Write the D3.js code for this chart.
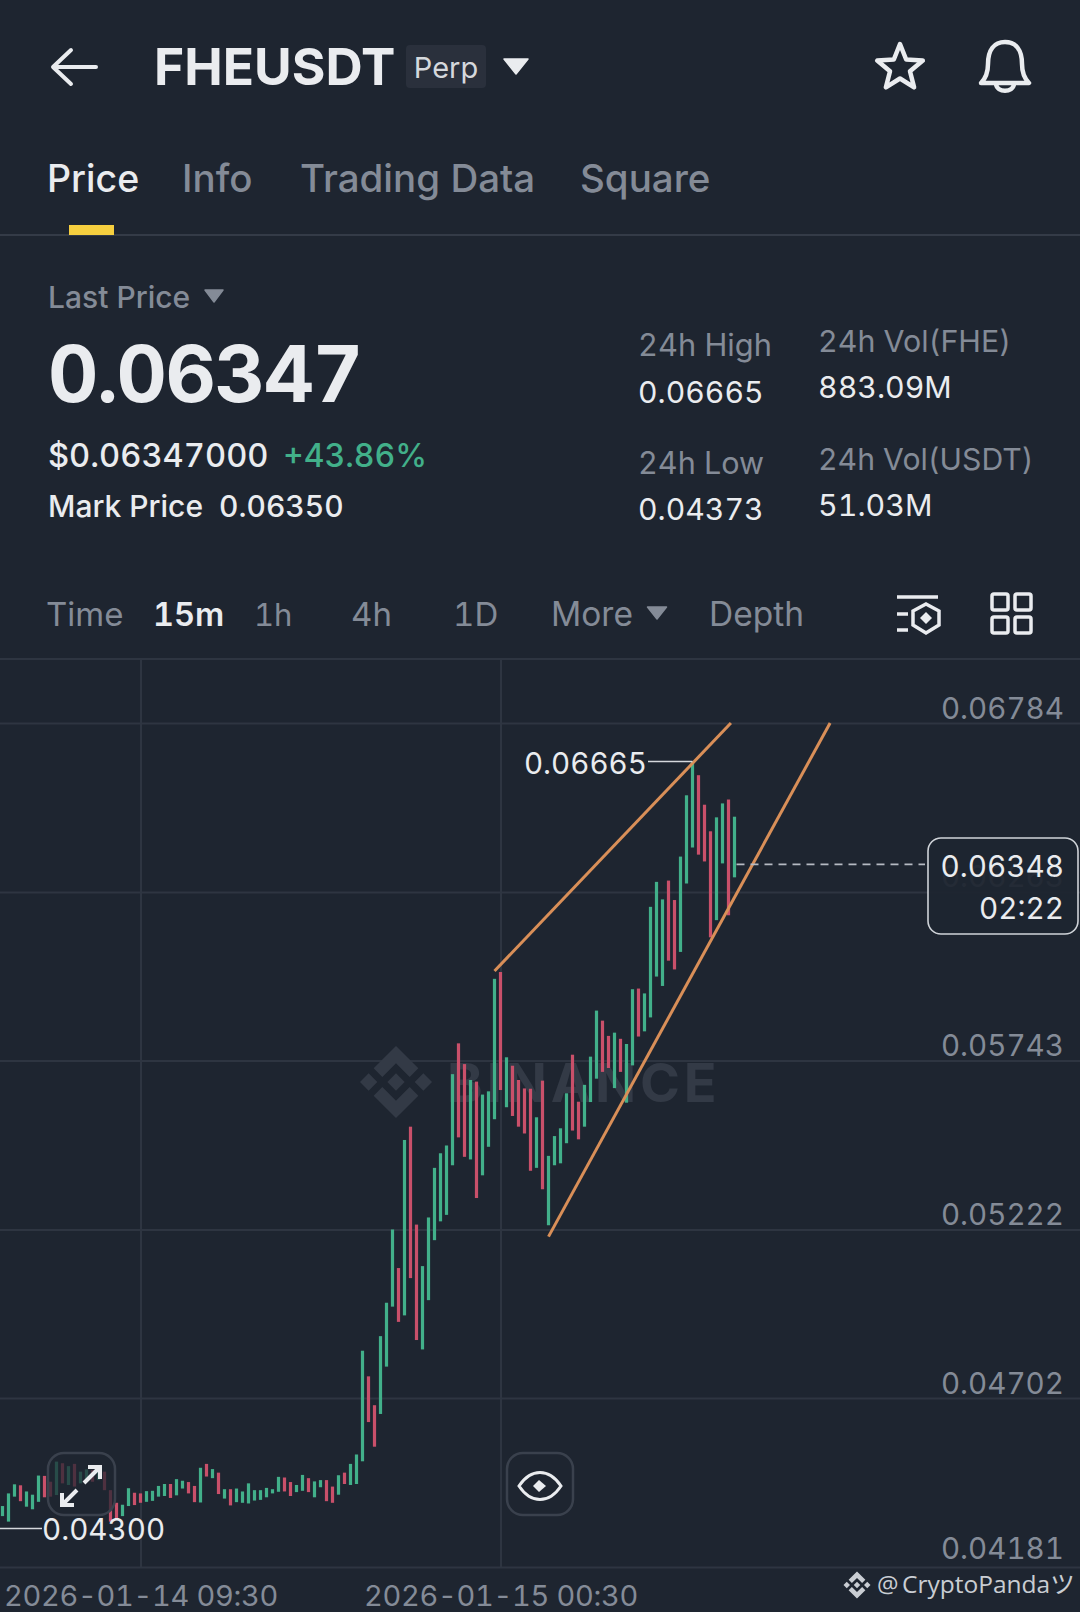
<!DOCTYPE html>
<html>
<head>
<meta charset="utf-8">
<script src="https://cdn.jsdelivr.net/npm/d3@7/dist/d3.min.js"></script>
<style>
  html, body { margin: 0; padding: 0; background: #1e2530; }
  svg { display: block; }
  text { font-family: Inter, "Noto Sans", sans-serif; font-variant-numeric: tabular-nums; }
</style>
</head>
<body>
<div id="chart"></div>
<script>
// 15m bars, first one at 2026-01-14 03:45
var firstBar = new Date(2026, 0, 14, 3, 45);
var sides = ("gggrgggrrg" + "rgrggrgrrr" + "ggrrggggrg" + "grrgrgrgrg" + "gggggggrrg" + "grggrrgrgg" +
  "grrgggrgrr" + "ggggggrrgr" + "gggrgrrrrg" + "rggggrrggg" + "rrgrggrggg" + "grrgggrrrg" + "grg").split("");
var highs = [0.04369,0.04408,0.04436,0.04433,0.04414,0.04404,0.04463,0.04462,0.04444,0.04506,
  0.04501,0.04492,0.04499,0.04475,0.04482,0.04480,0.04485,0.04475,0.04418,0.04379,
  0.04373,0.04424,0.04410,0.04408,0.04415,0.04416,0.04431,0.04437,0.04437,0.04452,
  0.04447,0.04443,0.04431,0.04487,0.04499,0.04483,0.04472,0.04421,0.04421,0.04423,
  0.04414,0.04439,0.04418,0.04418,0.04425,0.04421,0.04459,0.04457,0.04443,0.04434,
  0.04465,0.04455,0.04445,0.04449,0.04449,0.04429,0.04464,0.04472,0.04499,0.04528,
  0.04848,0.04769,0.04680,0.04893,0.04996,0.05222,0.05103,0.05498,0.05539,0.05237,
  0.05109,0.05259,0.05412,0.05457,0.05481,0.05701,0.05796,0.05732,0.05683,0.05678,
  0.05638,0.05648,0.05995,0.06016,0.05753,0.05727,0.05683,0.05657,0.05656,0.05568,
  0.05681,0.05449,0.05510,0.05534,0.05642,0.05761,0.05616,0.05668,0.05755,0.05897,
  0.05866,0.05819,0.05829,0.05810,0.05794,0.05963,0.05965,0.05950,0.06217,0.06294,
  0.06240,0.06298,0.06238,0.06372,0.06561,0.06665,0.06623,0.06532,0.06450,0.06493,
  0.06536,0.06548,0.06495];
var lows = [0.04338,0.04321,0.04398,0.04384,0.04367,0.04359,0.04382,0.04396,0.04398,0.04403,
  0.04439,0.04434,0.04429,0.04439,0.04444,0.04444,0.04449,0.04418,0.04321,0.04326,
  0.04338,0.04369,0.04372,0.04379,0.04382,0.04385,0.04398,0.04400,0.04394,0.04402,
  0.04423,0.04408,0.04381,0.04380,0.04460,0.04455,0.04406,0.04392,0.04371,0.04381,
  0.04379,0.04377,0.04386,0.04388,0.04396,0.04408,0.04413,0.04414,0.04400,0.04412,
  0.04416,0.04412,0.04396,0.04427,0.04384,0.04379,0.04404,0.04437,0.04434,0.04437,
  0.04507,0.04628,0.04552,0.04653,0.04799,0.04984,0.04937,0.04957,0.05072,0.04881,
  0.04852,0.05004,0.05189,0.05247,0.05267,0.05420,0.05506,0.05446,0.05438,0.05319,
  0.05389,0.05477,0.05562,0.05652,0.05599,0.05572,0.05539,0.05518,0.05403,0.05412,
  0.05346,0.05235,0.05420,0.05426,0.05488,0.05527,0.05500,0.05539,0.05615,0.05687,
  0.05708,0.05720,0.05658,0.05708,0.05613,0.05728,0.05817,0.05833,0.05876,0.06002,
  0.05973,0.06051,0.06024,0.06078,0.06289,0.06400,0.06378,0.06357,0.06123,0.06176,
  0.06351,0.06191,0.06308];

var priceTicks = [0.04181, 0.04702, 0.05222, 0.05743, 0.06263, 0.06784];
var timeTicks = [new Date(2026, 0, 14, 9, 30), new Date(2026, 0, 15, 0, 30)];

var lastPrice = 0.06348;
var highPrice = 0.06665;
var highTime = new Date(2026, 0, 15, 8, 30);
var lowPrice = 0.04300;

// hand drawn trend lines
var upperLineTimes = [new Date(2026, 0, 15, 0, 15), new Date(2026, 0, 15, 10, 6)];
var upperLinePrices = [0.06019, 0.06784];
var lowerLineTimes = [new Date(2026, 0, 15, 2, 30), new Date(2026, 0, 15, 14, 14)];
var lowerLinePrices = [0.05200, 0.06784];

var W = 1080, H = 1612;
var bg = "#1e2530", gridCol = "#2e3541", grey = "#848b97", white = "#eaecef";
var green = "#42b08a", red = "#c9506a", orange = "#d98f58";

var svg = d3.select("#chart").append("svg").attr("width", W).attr("height", H);
svg.append("rect").attr("width", W).attr("height", H).attr("fill", bg);

var x = d3.scaleTime().domain(timeTicks).range([140.5, 500.5]);
var y = d3.scaleLinear().domain([0.04181, 0.06784]).range([1567, 723]);

function label(s, px, py, size, col, weight, anchor, spacing) {
  return svg.append("text").text(s).attr("x", px).attr("y", py)
    .attr("font-size", size).attr("fill", col)
    .attr("font-weight", weight || 400).attr("text-anchor", anchor || "start")
    .attr("letter-spacing", spacing || 0);
}

function tri(cx, top, w, h, col) {
  svg.append("path")
    .attr("d", "M" + (cx - w / 2) + "," + top + "L" + (cx + w / 2) + "," + top + "L" + cx + "," + (top + h) + "Z")
    .attr("fill", col).attr("stroke", col).attr("stroke-width", 1.5).attr("stroke-linejoin", "round");
}

function binanceLogo(cx, cy, scale, col) {
  var g = svg.append("g").attr("transform", "translate(" + cx + "," + cy + ") scale(" + scale + ")").attr("fill", col);
  g.append("path").attr("d", "M0,-50L31,-19L19,-7L0,-26L-19,-7L-31,-19Z");
  g.append("path").attr("d", "M0,50L31,19L19,7L0,26L-19,7L-31,19Z");
  g.append("path").attr("d", "M0,-12L12,0L0,12L-12,0Z");
  g.append("path").attr("d", "M-38,-12L-26,0L-38,12L-50,0Z");
  g.append("path").attr("d", "M38,-12L50,0L38,12L26,0Z");
}

// header
svg.append("path").attr("d", "M96,67H54M71,50L53,67L71,84")
  .attr("fill", "none").attr("stroke", white).attr("stroke-width", 4).attr("stroke-linecap", "round").attr("stroke-linejoin", "round");
label("FHEUSDT", 154, 85, 51.5, white, 700);
svg.append("rect").attr("x", 406).attr("y", 45).attr("width", 80).attr("height", 43).attr("rx", 4).attr("fill", "#2a303c");
label("Perp", 446, 78, 29, "#d5d8dc", 400, "middle");
tri(516, 59, 24, 15, white);

var starPts = d3.range(10).map(function(i) {
  var r = i % 2 ? 10.5 : 24, a = i * Math.PI / 5;
  return [900 + r * Math.sin(a), 68 - r * Math.cos(a)].join(",");
}).join(" ");
svg.append("polygon").attr("points", starPts).attr("fill", "none").attr("stroke", white)
  .attr("stroke-width", 4.5).attr("stroke-linejoin", "round");
svg.append("path").attr("d", "M981,83C986,78 988,72 988,64C988,50 994,42 1005,42C1016,42 1022,50 1022,64C1022,72 1024,78 1029,83Z M996,84C997,93 1013,93 1014,84")
  .attr("fill", "none").attr("stroke", white).attr("stroke-width", 4.5).attr("stroke-linejoin", "round");

// tabs
label("Price", 47, 192, 37.5, white, 500);
label("Info", 182, 192, 38.5, grey, 500);
label("Trading Data", 300, 192, 38.5, grey, 500);
label("Square", 580, 192, 38.5, grey, 500);
svg.append("line").attr("x1", 0).attr("x2", W).attr("y1", 235).attr("y2", 235).attr("stroke", "#343b47").attr("stroke-width", 2);
svg.append("rect").attr("x", 69).attr("y", 225).attr("width", 45).attr("height", 10).attr("fill", "#f6cf3f");

// price block
label("Last Price", 48, 308, 30, grey, 500);
tri(214, 290, 18, 12, grey);
label("0.06347", 48, 402, 78, white, 700, "start", -1.4);
label("$0.06347000", 48, 467, 32.7, white, 500);
label("+43.86%", 283, 467, 32, green, 500);
label("Mark Price", 48, 517, 30, white, 500);
label("0.06350", 219, 517, 30, white, 500);
label("24h High", 638, 356, 30.8, grey);
label("0.06665", 638, 403, 30.2, white);
label("24h Vol(FHE)", 818, 352, 30.4, grey);
label("883.09M", 818, 398, 30.3, white);
label("24h Low", 638, 474, 30.6, grey);
label("0.04373", 638, 520, 30.2, white);
label("24h Vol(USDT)", 818, 470, 30.2, grey);
label("51.03M", 818, 516, 30.4, white);

// interval bar
label("Time", 46, 626, 33, grey);
label("15m", 153, 626, 32.5, white, 600);
label("1h", 254, 626, 31, grey);
label("4h", 351, 626, 33, grey);
label("1D", 453, 626, 33, grey);
label("More", 551, 626, 33.5, grey);
tri(657, 607, 19, 12, grey);
label("Depth", 709, 626, 33.5, grey);

svg.append("path").attr("d", "M897,597H938M897,614H908M897,630H908")
  .attr("stroke", white).attr("stroke-width", 3.5).attr("fill", "none");
svg.append("path").attr("d", "M926,604L939,611V625L926,633L913,625V611Z")
  .attr("stroke", white).attr("stroke-width", 3.5).attr("fill", "none");
svg.append("path").attr("d", "M926,612L932,618L926,624L920,618Z").attr("fill", white);
[[992, 594], [1015, 594], [992, 617], [1015, 617]].forEach(function(p) {
  svg.append("rect").attr("x", p[0]).attr("y", p[1]).attr("width", 16).attr("height", 16).attr("rx", 2)
    .attr("fill", "none").attr("stroke", white).attr("stroke-width", 3.5);
});

// chart frame
svg.append("line").attr("x1", 0).attr("x2", W).attr("y1", 659).attr("y2", 659).attr("stroke", gridCol).attr("stroke-width", 2);

var yAxis = d3.axisRight(y).tickValues(priceTicks).tickSize(W).tickFormat(d3.format(".5f"));
var yg = svg.append("g").call(yAxis);
yg.select(".domain").remove();
yg.selectAll("line").attr("stroke", gridCol).attr("stroke-width", 2);
yg.selectAll("text")
  .attr("x", 1064).attr("text-anchor", "end")
  .attr("dy", function(d) { return d === priceTicks[0] ? -9 : -5; })
  .attr("font-size", 29.6).attr("fill", grey)
  .style("font-family", "Inter");

var xAxis = d3.axisBottom(x).tickValues(timeTicks).tickSize(660 - 1567).tickFormat(d3.timeFormat("%Y-%m-%d %H:%M"));
var xg = svg.append("g").attr("transform", "translate(0,1567)").call(xAxis);
xg.select(".domain").remove();
xg.selectAll("line").attr("stroke", gridCol).attr("stroke-width", 2);
xg.selectAll("text")
  .attr("y", 0).attr("dy", 39).attr("text-anchor", "middle")
  .attr("font-size", 29).attr("letter-spacing", -0.3).attr("fill", grey)
  .style("font-family", "Inter");

// watermark under the bars
binanceLogo(396, 1082, 0.72, "#333a46");
label("BINANCE", 447, 1102, 54, "#333a46", 700, "start", 3.9);

// bars
var bars = highs.map(function(h, i) {
  return { t: d3.timeMinute.offset(firstBar, i * 15), high: h, low: lows[i], side: sides[i] };
});
svg.append("g").selectAll("rect").data(bars).enter().append("rect")
  .attr("x", function(d) { return x(d.t) - 1.6; })
  .attr("width", 3.2)
  .attr("y", function(d) { return y(d.high); })
  .attr("height", function(d) { return y(d.low) - y(d.high); })
  .attr("fill", function(d) { return d.side === "g" ? green : red; });

// trend lines
var trend = d3.line().x(function(d) { return x(d[0]); }).y(function(d) { return y(d[1]); });
[d3.zip(upperLineTimes, upperLinePrices), d3.zip(lowerLineTimes, lowerLinePrices)].forEach(function(pts) {
  svg.append("path").attr("d", trend(pts)).attr("fill", "none").attr("stroke", orange).attr("stroke-width", 3);
});

// high / low markers
svg.append("line").attr("x1", 648).attr("x2", x(highTime)).attr("y1", y(highPrice)).attr("y2", y(highPrice))
  .attr("stroke", "#d5d8dc").attr("stroke-width", 1.5);
label(d3.format(".5f")(highPrice), 647, y(highPrice) + 12, 29.6, white, 400, "end");
svg.append("line").attr("x1", 0).attr("x2", 42).attr("y1", y(lowPrice)).attr("y2", y(lowPrice))
  .attr("stroke", "#d5d8dc").attr("stroke-width", 1.5);
label(d3.format(".5f")(lowPrice), 42, y(lowPrice) + 12, 29.6, white);

// last price
svg.append("line").attr("x1", x(bars[122].t) + 2).attr("x2", 925).attr("y1", y(lastPrice)).attr("y2", y(lastPrice))
  .attr("stroke", "#b5bac2").attr("stroke-width", 1.6).attr("stroke-dasharray", "8,6");
svg.append("rect").attr("x", 928).attr("y", 838).attr("width", 150).attr("height", 96).attr("rx", 13)
  .attr("fill", bg).attr("fill-opacity", 0.94).attr("stroke", "#cfd3d8").attr("stroke-width", 1.6);
label(d3.format(".5f")(lastPrice), 1064, 877, 29.7, white, 400, "end");
label("02:22", 1064, 919, 29.7, white, 400, "end");

// floating buttons
svg.append("rect").attr("x", 48).attr("y", 1453).attr("width", 67).attr("height", 62).attr("rx", 16)
  .attr("fill", bg).attr("fill-opacity", 0.72).attr("stroke", "#3a414d").attr("stroke-width", 2.5);
svg.append("path").attr("d", "M84,1483L100,1467M88,1467H100V1479M77,1490L62,1505M74,1505H62V1493")
  .attr("fill", "none").attr("stroke", white).attr("stroke-width", 4);
svg.append("rect").attr("x", 507).attr("y", 1453).attr("width", 66).attr("height", 62).attr("rx", 16)
  .attr("fill", bg).attr("stroke", "#3a414d").attr("stroke-width", 2.5);
svg.append("path").attr("d", "M519,1486C531,1468 549,1468 561,1486C549,1504 531,1504 519,1486Z")
  .attr("fill", "none").attr("stroke", white).attr("stroke-width", 3);
svg.append("path").attr("d", "M539,1480L546,1486L539,1492L533,1486Z").attr("fill", white);

// attribution
binanceLogo(857, 1585, 0.27, "#c9cdd3");
svg.append("text").text("@").attr("x", 877).attr("y", 1593)
  .attr("font-size", 24).attr("fill", "#c9cdd3").style("font-family", "'Open Sans'");
svg.append("text").text("CryptoPandaツ").attr("x", 902).attr("y", 1593)
  .attr("font-size", 24.5).attr("fill", "#c9cdd3").style("font-family", "'Open Sans', 'Noto Sans CJK JP'");
</script>
</body>
</html>
